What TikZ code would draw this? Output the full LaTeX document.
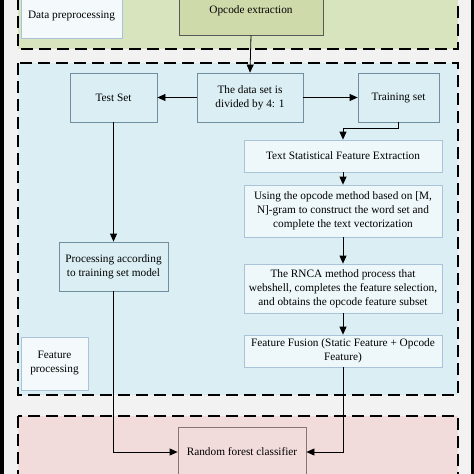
\documentclass[tikz,border=0pt]{standalone}
\usepackage{fontspec}
\setmainfont{Liberation Serif}
\usetikzlibrary{arrows.meta}
\definecolor{bgray}{HTML}{F2F2F2}
\definecolor{pgreen}{HTML}{D7E4BD}
\definecolor{pblue}{HTML}{DAEEF3}
\definecolor{ppink}{HTML}{F2DCDB}
\definecolor{bblue}{HTML}{6F8FA0}
\definecolor{lblue}{HTML}{A9C4D8}
\definecolor{bpink}{HTML}{8A7373}
\tikzset{
  region/.style={dashed, line width=2pt, dash pattern=on 12pt off 6pt},
  stagebox/.style={draw, line width=0.8pt, align=center, inner sep=2pt,
    font=\fontsize{11.3}{14}\selectfont},
  labelbox/.style={stagebox, draw=lblue, fill=white!70!pblue},
  arr/.style={-{Triangle[length=8pt,width=7pt]}, line width=0.8pt}
}
\begin{document}
\begin{tikzpicture}[x=1pt,y=-1pt]
\useasboundingbox (0,0) rectangle (474,474);
\clip (0,0) rectangle (474,474);
\fill [bgray] (0,0) rectangle (474,474);
\draw [line width=4pt] (2,-5)--(2,480);
\draw [line width=3pt] (472.5,-5)--(472.5,480);
% regions
\draw [region, fill=pgreen] (18,-20) rectangle (458,49);
\draw [region, fill=pblue] (18,63) rectangle (458,395);
\draw [region, fill=ppink] (18,416) rectangle (458,500);
% data preprocessing
\node [labelbox, minimum width=101pt, minimum height=44pt] (prep) at (71.5,16) {Data preprocessing};
\node [stagebox, draw=black!65, fill=pgreen!90!olive, minimum width=144pt, minimum height=48pt] (opcode) at (251,11) {Opcode extraction};
% feature processing
\node [stagebox, draw=bblue, fill=pblue, minimum width=106pt, minimum height=49pt] (split) at (250,97.5) {The data set is\\divided by 4: 1};
\node [stagebox, draw=bblue, fill=pblue, minimum width=87pt, minimum height=49pt] (test) at (113.5,97.5) {Test Set};
\node [stagebox, draw=bblue, fill=pblue, minimum width=81pt, minimum height=49pt] (train) at (398.5,97.5) {Training set};
\node [stagebox, draw=lblue, fill=white!55!pblue, minimum width=198pt, minimum height=32pt] (stat) at (343,156) {Text Statistical Feature Extraction};
\node [stagebox, draw=lblue, fill=white!55!pblue, minimum width=198pt, minimum height=52pt] (ngram) at (343,211) {Using the opcode method based on [M,\\N]-gram to construct the word set and\\complete the text vectorization};
\node [stagebox, draw=lblue, fill=white!55!pblue, minimum width=198pt, minimum height=49pt] (rnca) at (343,288.5) {The RNCA method process that\\webshell, completes the feature selection,\\and obtains the opcode feature subset};
\node [stagebox, draw=lblue, fill=white!55!pblue, minimum width=198pt, minimum height=32pt] (fusion) at (343,351) {Feature Fusion (Static Feature + Opcode\\Feature)};
\node [stagebox, draw=bblue, fill=pblue, minimum width=109pt, minimum height=49pt] (proc) at (113.5,266.5) {Processing according\\to training set model};
\node [labelbox, minimum width=67pt, minimum height=53pt] (featproc) at (54.5,363.5) {Feature\\processing};
% classifier
\node [stagebox, draw=bpink, fill=ppink, minimum width=128pt, minimum height=50pt] (rf) at (242,452) {Random forest classifier};
% connectors
\draw [arr] (opcode.south)--(split.north);
\draw [arr] (split.west)--(test.east);
\draw [arr] (split.east)--(train.west);
\draw [arr] (train.south)--++(0,6) -| (stat.north);
\draw [arr] (stat.south)--(ngram.north);
\draw [arr] (ngram.south)--(rnca.north);
\draw [arr] (rnca.south)--(fusion.north);
\draw [arr] (test.south)--(proc.north);
\draw [arr] (proc.south) |- (rf.west);
\draw [arr] (fusion.south) |- (rf.east);
\end{tikzpicture}
\end{document}
